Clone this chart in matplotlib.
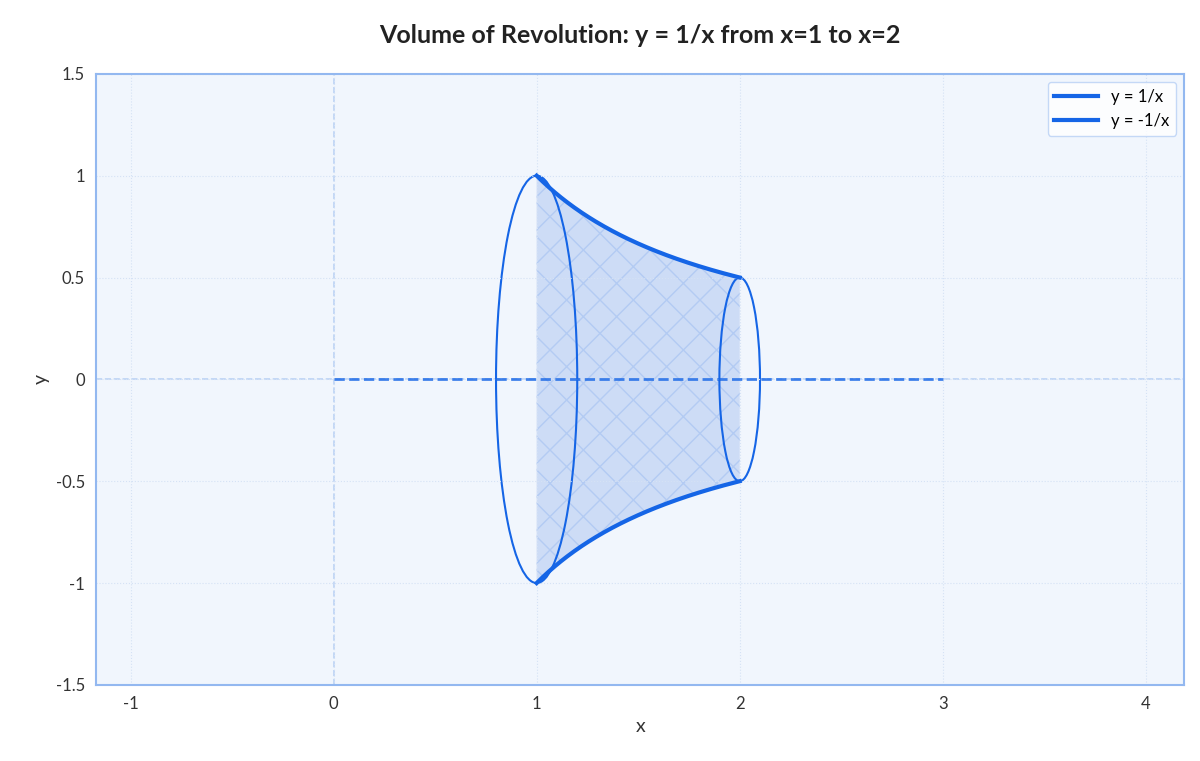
import numpy as np
import matplotlib
matplotlib.use("Agg")
import matplotlib.pyplot as plt
from matplotlib.patches import Ellipse

plt.rcParams['font.family'] = ['Lato', 'DejaVu Sans']
plt.rcParams['axes.unicode_minus'] = False

x_start, x_end = 1, 2
axis_line_x = [0, 3]
xlim = (-1.17, 4.19)
ylim = (-1.5, 1.5)
xticks = [-1, 0, 1, 2, 3, 4]
yticks = [-1.5, -1, -0.5, 0, 0.5, 1, 1.5]
ytick_labels = ['-1.5', '-1', '-0.5', '0', '0.5', '1', '1.5']

blue = '#1565e6'
fig, ax = plt.subplots(figsize=(12, 7.61), dpi=100)
fig.subplots_adjust(left=0.08, right=0.987, top=0.903, bottom=0.1)
ax.set_facecolor('#f1f6fd')
for s in ax.spines.values():
    s.set_color('#93b8f0'); s.set_linewidth(1.5)

x = np.linspace(x_start, x_end, 200)
y = 1 / x
ax.fill_between(x, -y, y, facecolor='#cddcf6', edgecolor='#b3cbf3', hatch='x', linewidth=0)
ax.plot(x, y, color=blue, lw=3, label='y = 1/x')
ax.plot(x, -y, color=blue, lw=3, label='y = -1/x')
for xe in (x_start, x_end):
    r = 1 / xe
    ax.add_patch(Ellipse((xe, 0), 0.4 * r, 2 * r, fill=False, edgecolor=blue, lw=1.5))
ax.plot(axis_line_x, [0, 0], color=blue, lw=2, ls='--', alpha=0.8)
ax.axhline(0, color='#bcd3f5', lw=1.2, ls='--', zorder=0)
ax.axvline(0, color='#bcd3f5', lw=1.2, ls='--', zorder=0)

ax.set_xlim(*xlim); ax.set_ylim(*ylim)
ax.set_xticks(xticks); ax.set_yticks(yticks); ax.set_yticklabels(ytick_labels)
ax.grid(True, color='#d5e2f5', ls=':', lw=0.8)
ax.tick_params(length=0, labelsize=12, colors='#333333', pad=8)
ax.set_xlabel('x', fontsize=14, color='#333333')
ax.set_ylabel('y', fontsize=14, color='#333333')
ax.set_title('Volume of Revolution: y = 1/x from x=1 to x=2', fontsize=18, fontweight='bold', color='#222222', pad=22)
leg = ax.legend(loc='upper right', fontsize=12, frameon=True, edgecolor='#b8d0f5', facecolor='white', handlelength=2.6)
fig.savefig('out.png')
